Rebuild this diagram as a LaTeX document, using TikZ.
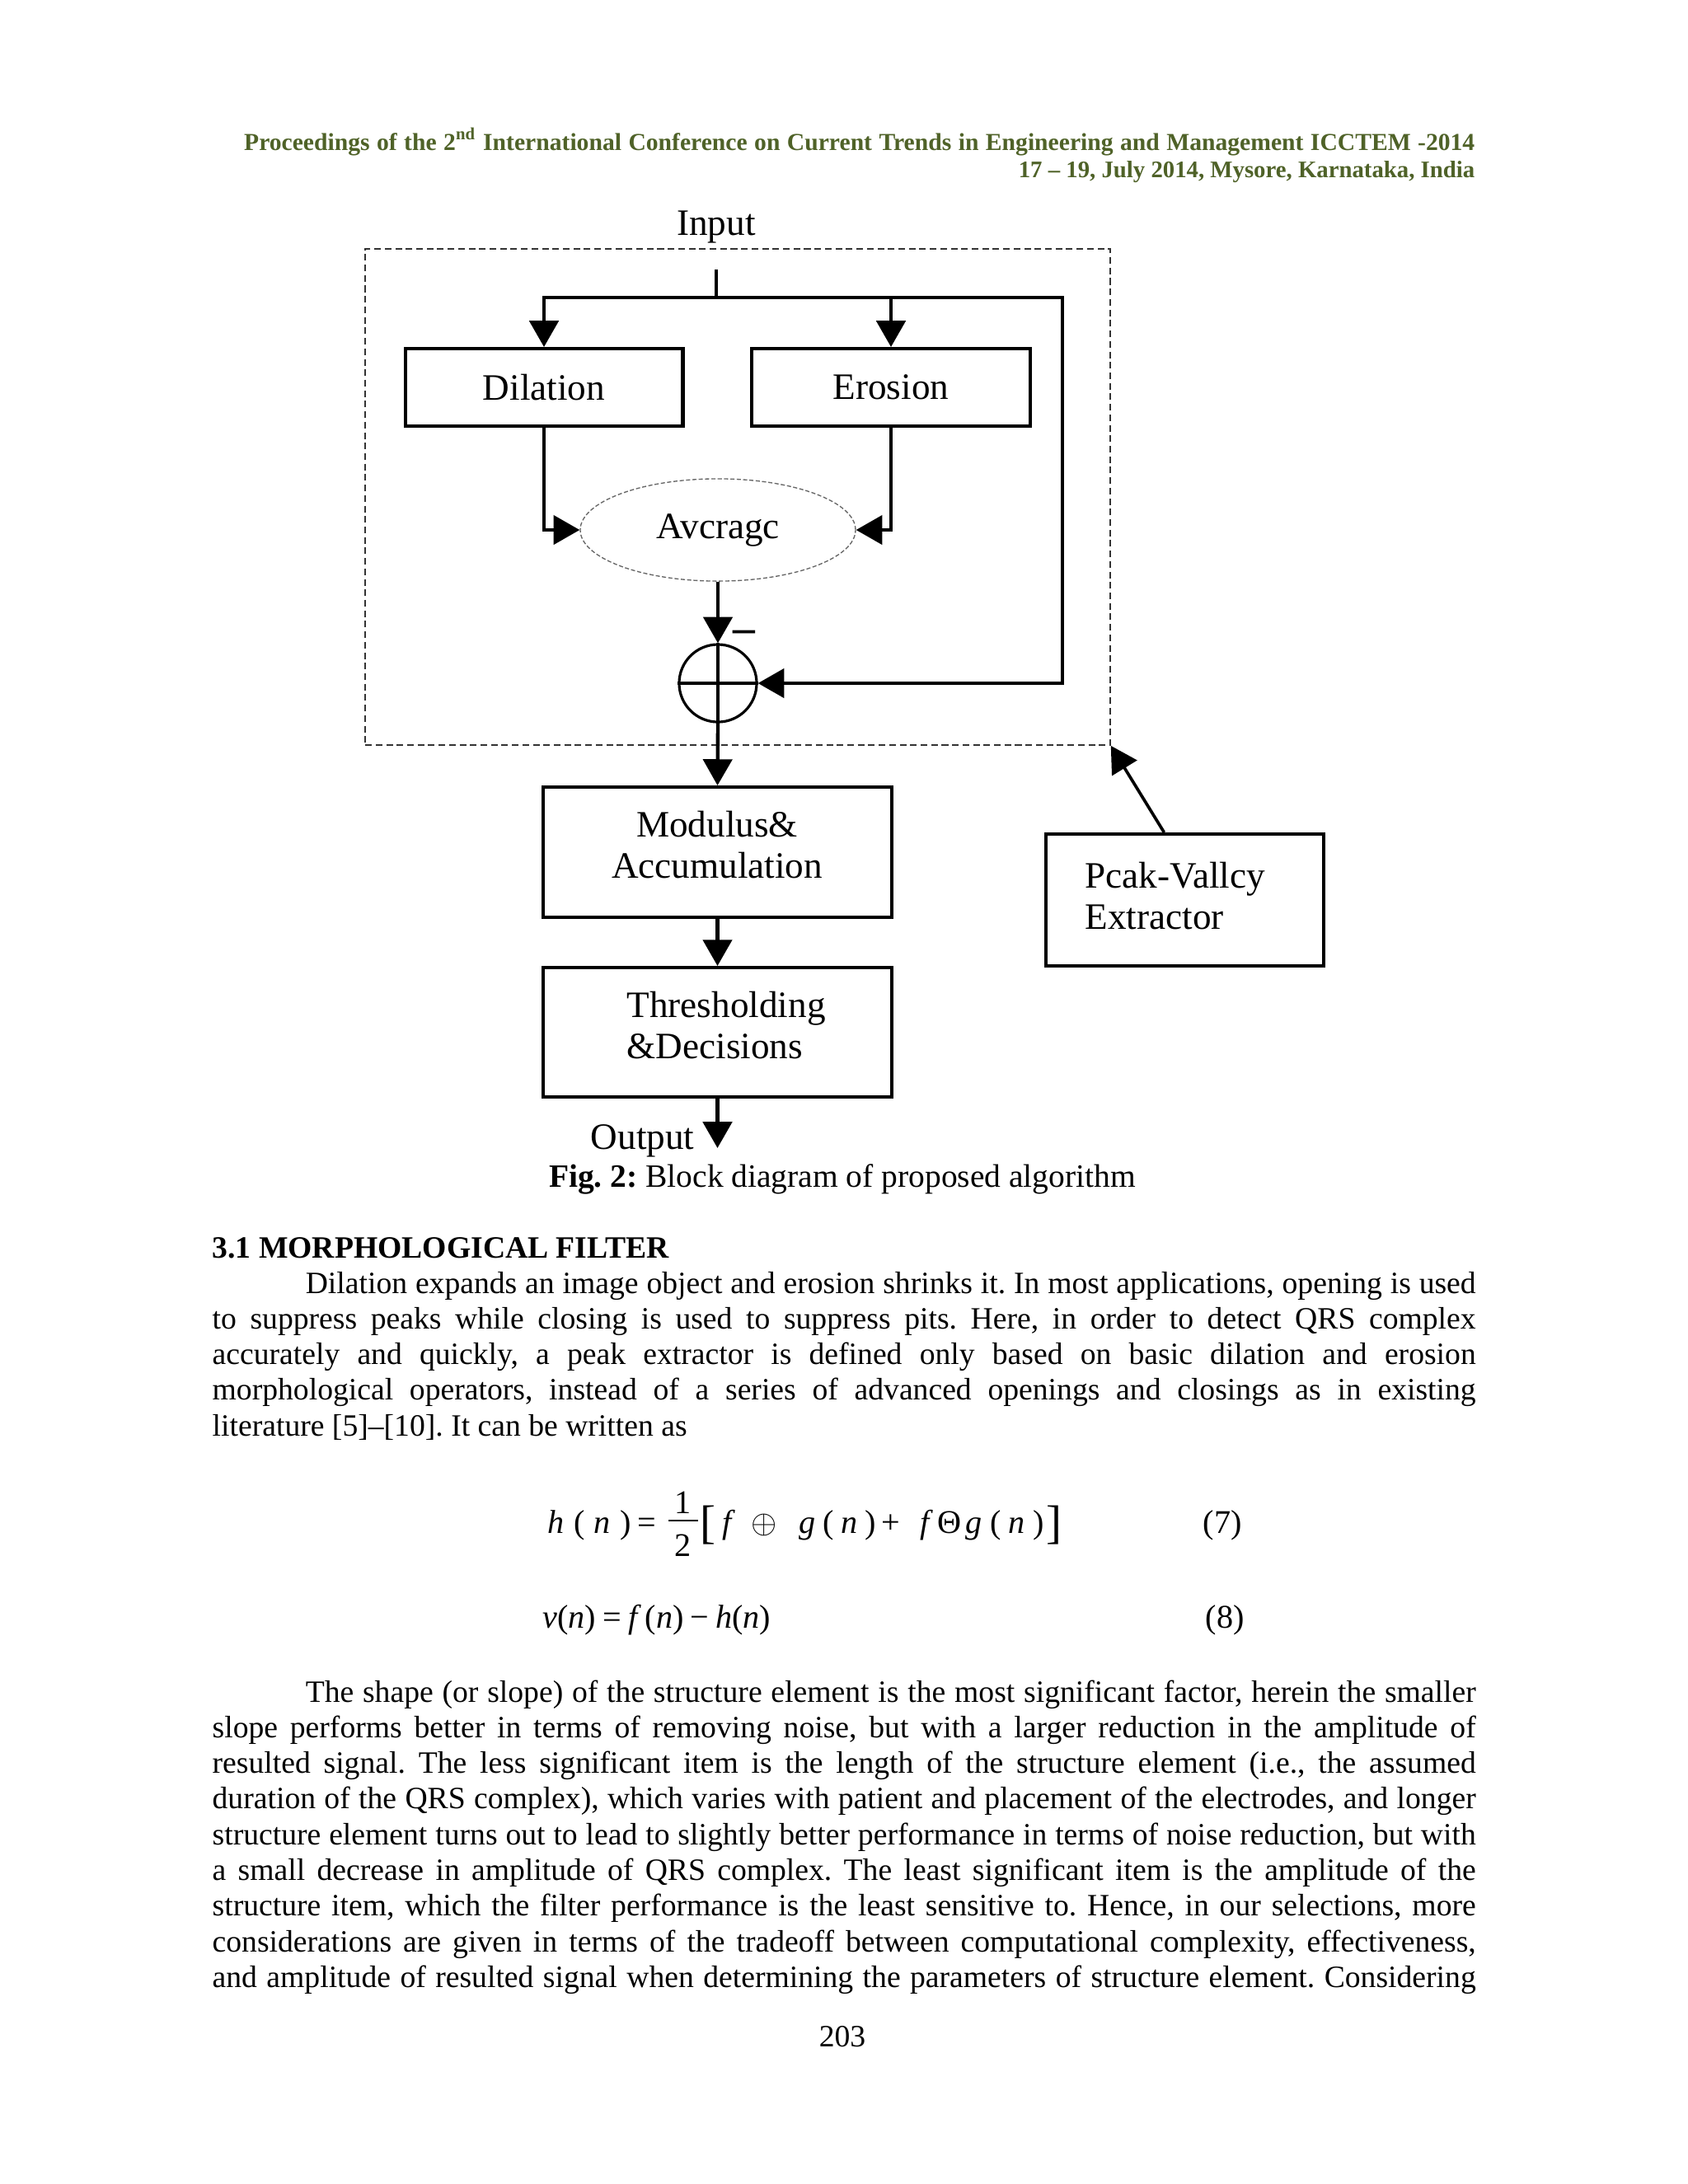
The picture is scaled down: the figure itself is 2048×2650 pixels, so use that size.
\documentclass[tikz,border=0pt]{standalone}
\usepackage{fontspec}
\setmainfont{Liberation Serif}
\usetikzlibrary{arrows.meta,shapes.geometric,calc}
\definecolor{hdrgreen}{HTML}{4F6228}
\newcommand{\bodyfnt}{\fontsize{11.25}{12.94}\selectfont}
\newcommand{\lblfnt}{\fontsize{13.5}{14.9}\selectfont}
\newcommand{\eqfnt}{\fontsize{12}{14}\selectfont}
\newcommand{\jl}[1]{\hbox to 458.1pt{#1}}
\newcommand{\mi}[1]{\textit{#1}}
\frenchspacing
\tikzset{
  blk/.style={draw, line width=1.2pt, inner sep=0pt, font=\lblfnt},
  lbl/.style={font=\lblfnt, inner sep=0pt},
  conn/.style={line width=1.3pt, line join=miter},
  tip/.style={-{Triangle[length=9.5pt,width=10.5pt]}},
  bothtip/.style={{Triangle[length=9.5pt,width=10.5pt]}-{Triangle[length=9.5pt,width=10.5pt]}},
  avgsh/.style={ellipse, draw=black!60, line width=0.4pt, dash pattern=on 1.5pt off 0.8pt, inner sep=0pt, minimum width=99.8pt, minimum height=37.1pt, font=\lblfnt},
  sumsh/.style={circle, draw, line width=0.95pt, inner sep=0pt, minimum size=28.1pt},
  dashbox/.style={draw=black!80, line width=0.5pt, dash pattern=on 2.4pt off 1.4pt, inner sep=0pt},
  txt/.style={inner sep=0pt, anchor=base west, font=\bodyfnt},
  eqt/.style={inner sep=0pt, anchor=base, font=\eqfnt},
  hdr/.style={inner sep=0pt, anchor=base east, text=hdrgreen, font=\fontsize{8.6}{9.9}\selectfont\bfseries},
}
\begin{document}
\begin{tikzpicture}[x=0.29883pt, y=-0.29883pt]
\fill[white] (0,0) rectangle (2048,2650);
\useasboundingbox (0,0) rectangle (2048,2650);

% header
\node[hdr, font=\fontsize{8.85}{9.9}\selectfont\bfseries] (hdr1) at (1790,182) {\hbox to 446.2pt{Proceedings of the 2\textsuperscript{nd} International Conference on Current Trends in Engineering and Management ICCTEM -2014}};
\node[hdr] (hdr2) at (1790,215) {17 – 19, July 2014, Mysore, Karnataka, India};

% diagram
\node[dashbox, minimum width=270.1pt, minimum height=179.9pt] (dash) at (895,603) {};
\node[lbl] (input) at (869,276) {Input};
\node[blk, minimum width=100.7pt, minimum height=28.1pt] (dil) at (660,470) {Dilation};
\node[blk, minimum width=101pt, minimum height=28.1pt] (ero) at (1081,470) {Erosion};
\node[avgsh] (avg) at (871,643) {Avcragc};
\node[sumsh] (sum) at (871,829) {};
\node[inner sep=0pt, font=\fontsize{16}{16}\selectfont\bfseries] (minus) at (903,772) {–};
\node[blk, minimum width=126.4pt, minimum height=47.2pt] (mod) at (870.5,1034) {};
\node[lbl, align=center] (modt) at (870,1025) {Modulus\&\\Accumulation};
\node[blk, minimum width=126.4pt, minimum height=46.9pt] (thr) at (870.5,1252.5) {};
\node[lbl, align=left, anchor=west] (thrt) at (760,1244) {Thresholding\\\&Decisions};
\node[blk, minimum width=100.7pt, minimum height=47.8pt] (pv) at (1437.5,1092) {};
\node[lbl, align=left, anchor=west] (pvt) at (1316,1087) {Pcak-Vallcy\\Extractor};
\node[lbl, anchor=east] (output) at (843,1384) {Output};

\coordinate (jIn) at (869,327);
\coordinate (jMid) at (869,361);
\coordinate (jL) at (660,361);
\coordinate (jR) at (1289,361);
\coordinate (outp) at (870.5,1393);

\draw[conn] (jIn) -- (jMid);
\draw[conn, bothtip] (dil.north) -- (jL) -- (jR) |- (sum.east);
\draw[conn, tip] (ero.north |- jR) -- (ero.north);
\draw[conn, tip] (dil.south) |- (avg.west);
\draw[conn, tip] (ero.south) |- (avg.east);
\draw[conn, tip] (avg.south) -- (sum.north);
\draw[line width=0.95pt] (sum.north) -- (sum.south) (sum.west) -- (sum.east);
\draw[conn, tip] (sum.south) -- (mod.north);
\draw[conn, tip] (mod.south) -- (thr.north);
\draw[conn, tip] (thr.south) -- (outp);
\draw[line width=1.1pt, tip] ([xshift=-7.5pt]pv.north) -- (dash.south east);

% caption
\node[inner sep=0pt, anchor=base, font=\fontsize{11.8}{13}\selectfont] (cap) at (1022,1440) {\textbf{Fig. 2:} Block diagram of proposed algorithm};

% section heading
\node[txt, font=\bodyfnt\bfseries] (sec) at (257,1526) {3.1 MORPHOLOGICAL FILTER};

% paragraph 1
\node[txt] (para1) at (257,1569) {\vtop{%
\jl{\kern33.8pt Dilation expands an image object and erosion shrinks it. In most applications, opening is used}
\jl{to suppress peaks while closing is used to suppress pits. Here, in order to detect QRS complex}
\jl{accurately and quickly, a peak extractor is defined only based on basic dilation and erosion}
\jl{morphological operators, instead of a series of advanced openings and closings as in existing}
\hbox{literature [5]–[10]. It can be written as}}};

% equation 7
\node[eqt, anchor=base west] (e7a) at (664,1860) {\mi{h}\hspace{3.4pt}(\hspace{3.4pt}\mi{n}\hspace{3.4pt})};
\node[eqt] (e7b) at (785,1860) {=};
\node[eqt] (e7n) at (829,1836) {1};
\node[eqt] (e7d) at (829,1888) {2};
\draw[line width=0.5pt] (811,1845) -- (847,1845);
\node[eqt, font=\fontsize{17}{18}\selectfont] (e7c) at (859,1866) {[};
\node[eqt, anchor=base west] (e7e) at (876,1860) {\mi{f}};
\node[eqt] (e7f) at (927,1860) {$\oplus$};
\node[eqt, anchor=base west] (e7g) at (969,1860) {\mi{g}\hspace{2.6pt}(\hspace{2.6pt}\mi{n}\hspace{2.6pt})};
\node[eqt] (e7h) at (1081,1860) {+};
\node[eqt, anchor=base west] (e7i) at (1116,1860) {\mi{f}\hspace{1.5pt}Θ};
\node[eqt, anchor=base west] (e7j) at (1171,1860) {\mi{g}\hspace{2.8pt}(\hspace{2.8pt}\mi{n}\hspace{2.8pt})};
\node[eqt, font=\fontsize{17}{18}\selectfont] (e7k) at (1279,1866) {]};
\node[eqt, anchor=base west] (e7num) at (1459,1860) {(7)};

% equation 8
\node[eqt, anchor=base west] (e8) at (658,1975) {\mi{v}(\mi{n})\hspace{2.4pt}=\hspace{2.4pt}\mi{f}\hspace{1.5pt}(\mi{n})\hspace{2.4pt}−\hspace{2.4pt}\mi{h}(\mi{n})};
\node[eqt, anchor=base west] (e8num) at (1462,1975) {(8)};

% paragraph 2
\node[txt] (para2) at (257,2065) {\vtop{%
\jl{\kern33.8pt The shape (or slope) of the structure element is the most significant factor, herein the smaller}
\jl{slope performs better in terms of removing noise, but with a larger reduction in the amplitude of}
\jl{resulted signal. The less significant item is the length of the structure element (i.e., the assumed}
\jl{duration of the QRS complex), which varies with patient and placement of the electrodes, and longer}
\jl{structure element turns out to lead to slightly better performance in terms of noise reduction, but with}
\jl{a small decrease in amplitude of QRS complex. The least significant item is the amplitude of the}
\jl{structure item, which the filter performance is the least sensitive to. Hence, in our selections, more}
\jl{considerations are given in terms of the tradeoff between computational complexity, effectiveness,}
\jl{and amplitude of resulted signal when determining the parameters of structure element. Considering}}};

% page number
\node[inner sep=0pt, anchor=base, font=\bodyfnt] (pnum) at (1022,2483) {203};
\end{tikzpicture}
\end{document}
